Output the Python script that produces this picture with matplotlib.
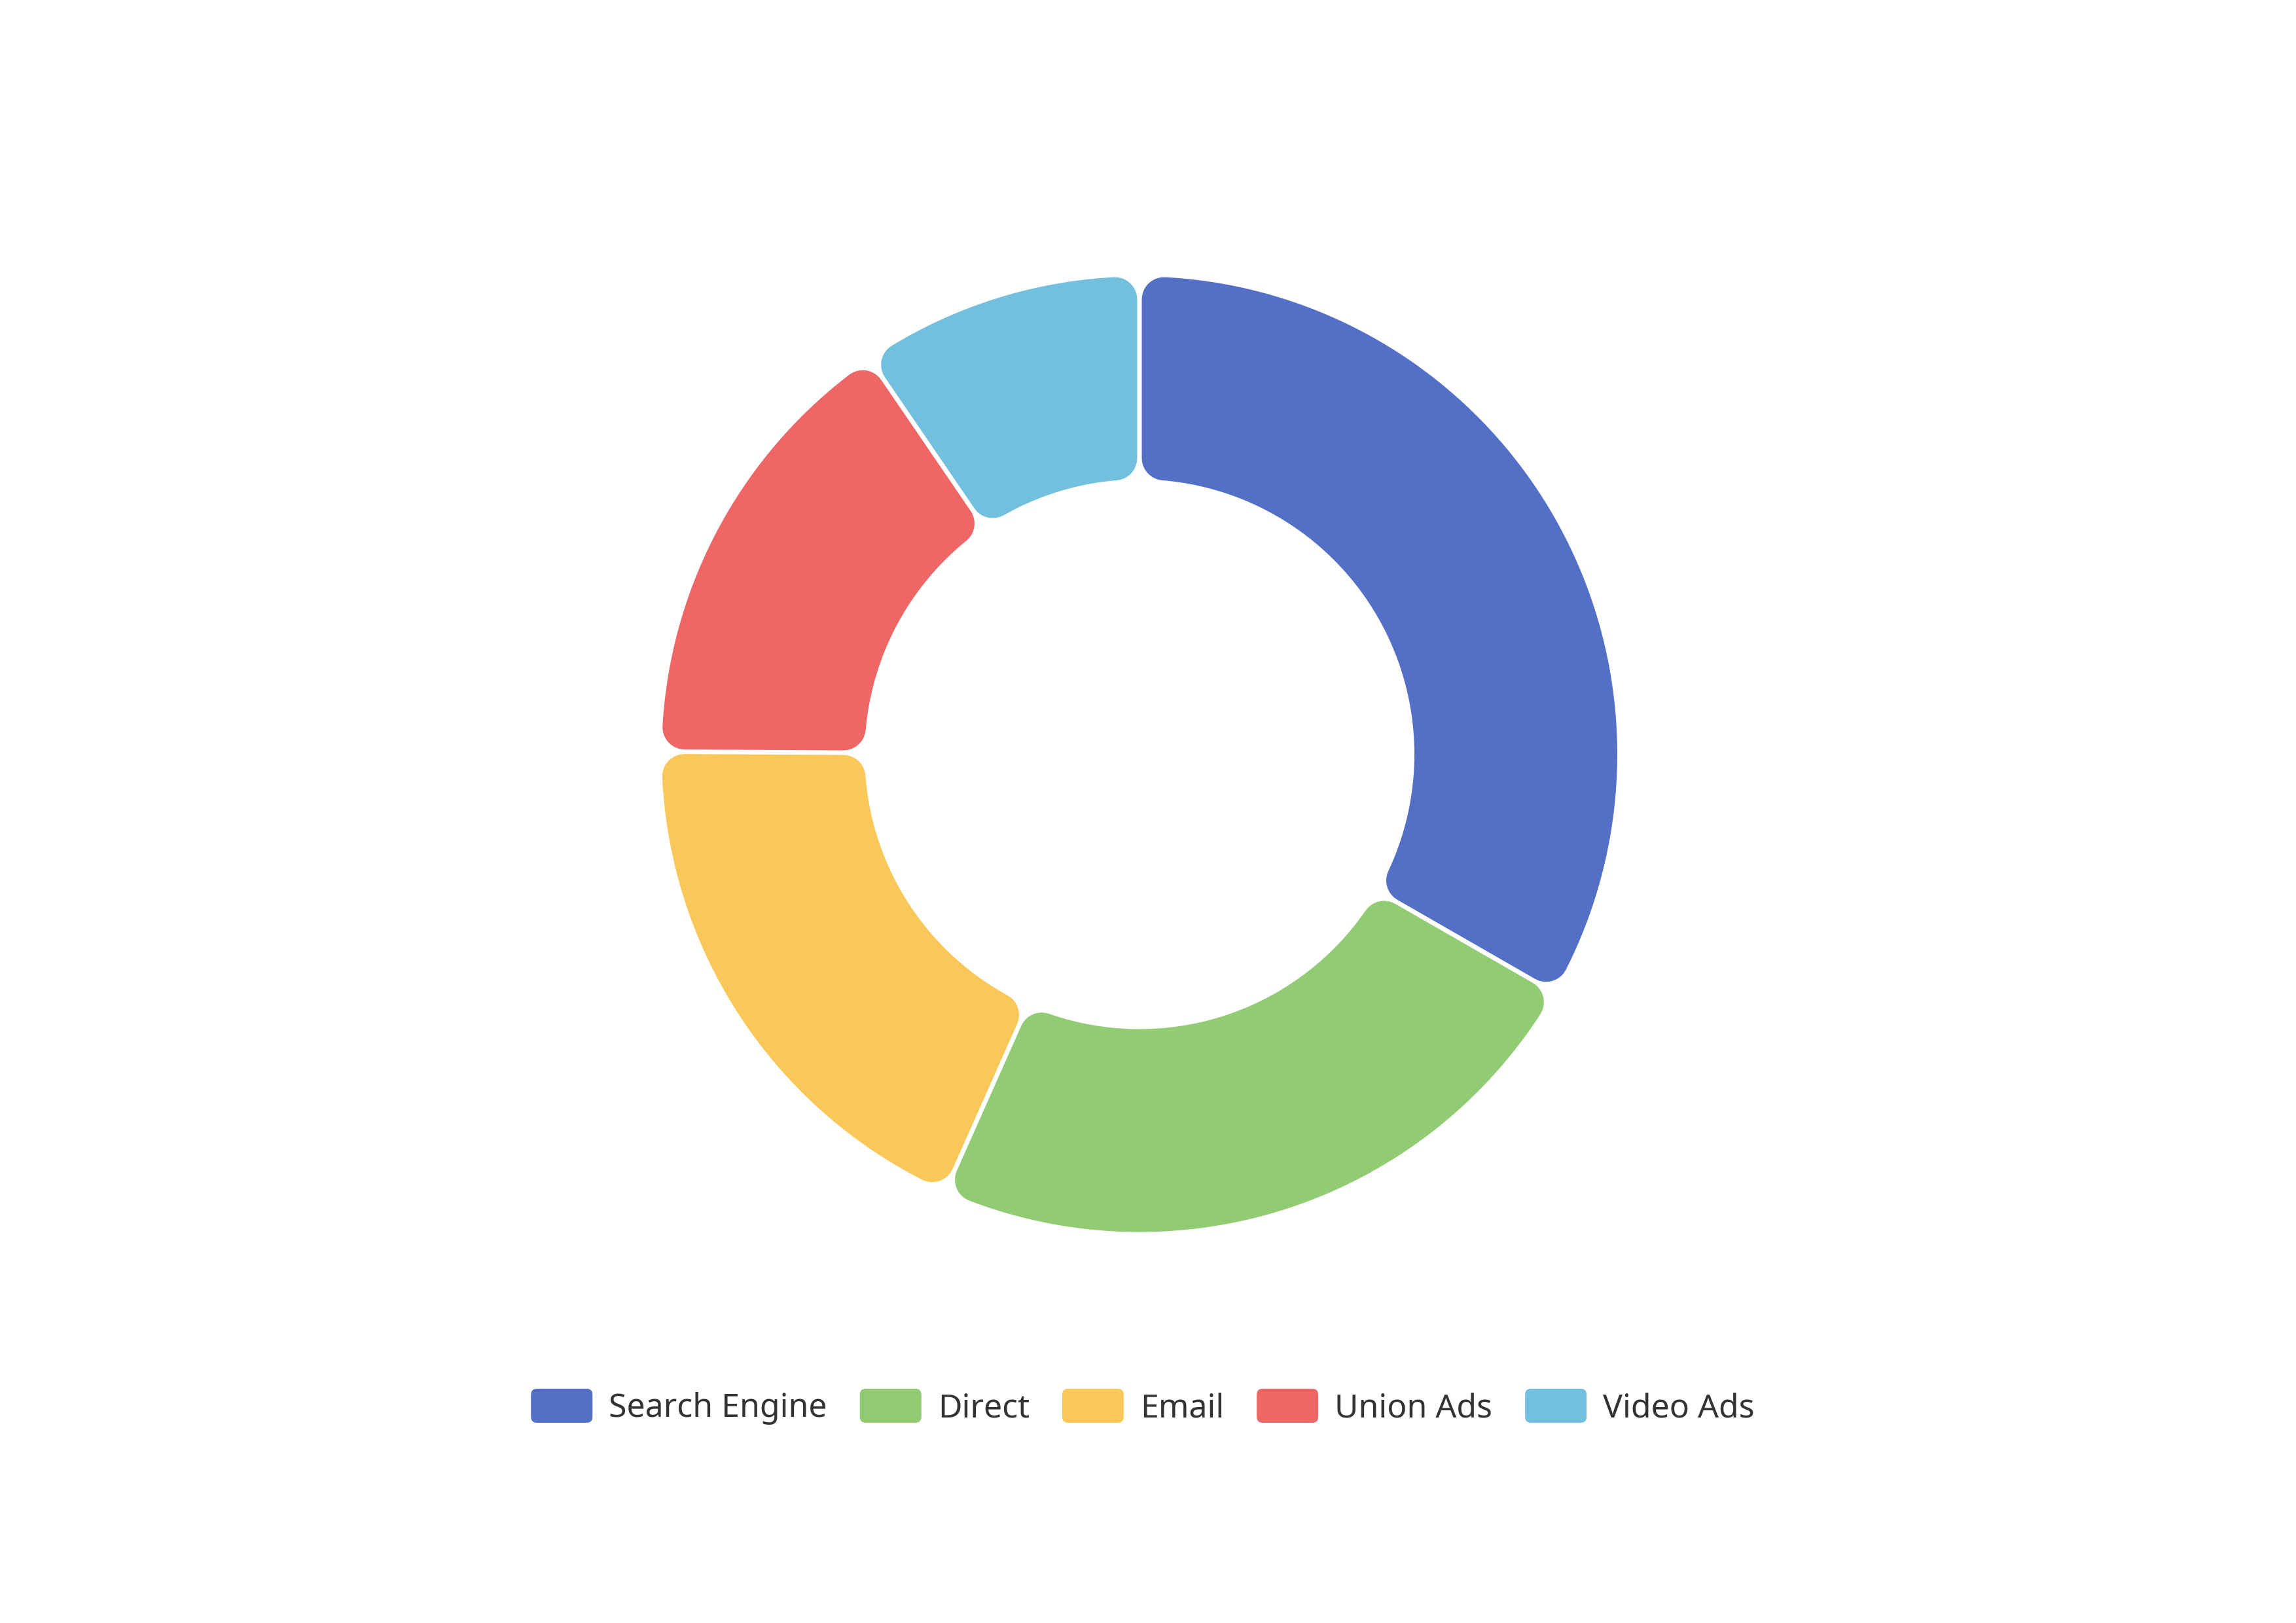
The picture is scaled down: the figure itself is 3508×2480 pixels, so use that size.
import matplotlib
matplotlib.use('Agg')
import matplotlib.pyplot as plt
import numpy as np
from matplotlib.patches import Polygon, FancyBboxPatch

categories = ['Search Engine', 'Direct', 'Email', 'Union Ads', 'Video Ads']
values = [1048, 735, 580, 484, 300]
colors = ['#5470c6', '#91cc75', '#fac858', '#ee6666', '#73c0de']

W, H, DPI = 3508, 2480, 100
fig = plt.figure(figsize=(W / DPI, H / DPI), dpi=DPI)
ax = fig.add_axes([0, 0, 1, 1])

cx, cy = 1741.0, H - 1152.5
R_OUT, R_IN = 730.0, 420.0
GAP = 7.0
RC = 34.0
PX2PT = 72.0 / DPI

wedges, _ = ax.pie(values, colors=colors, startangle=90, counterclock=False,
                   radius=R_OUT, center=(cx, cy), frame=True)

ro = R_OUT - RC
ri = R_IN + RC
d = GAP / 2 + RC
for w, col in zip(wedges, colors):
    t1, t2 = np.radians(w.theta1), np.radians(w.theta2)
    w.set_visible(False)
    ao1, ao2 = t1 + np.arcsin(d / ro), t2 - np.arcsin(d / ro)
    ai1, ai2 = t1 + np.arcsin(d / ri), t2 - np.arcsin(d / ri)
    a_out = np.linspace(ao1, ao2, 400)
    a_in = np.linspace(ai2, ai1, 400)
    xs = np.concatenate([cx + ro * np.cos(a_out), cx + ri * np.cos(a_in)])
    ys = np.concatenate([cy + ro * np.sin(a_out), cy + ri * np.sin(a_in)])
    poly = Polygon(np.column_stack([xs, ys]), closed=True, facecolor=col,
                   edgecolor=col, linewidth=2 * RC * PX2PT, joinstyle='round')
    ax.add_patch(poly)

ax.set_xlim(0, W)
ax.set_ylim(0, H)
ax.set_aspect('equal')
ax.axis('off')

# legend
fig.canvas.draw()
renderer = fig.canvas.get_renderer()
box_w, box_h = 94, 52
box_text_gap = 25
item_gap = 50
leg_cy = H - 2148
font = dict(family=['Noto Sans', 'DejaVu Sans'], fontsize=36, color='#333333')
texts = []
widths = []
for lab in categories:
    t = ax.text(0, leg_cy, lab, va='center', ha='left', **font)
    bb = t.get_window_extent(renderer)
    widths.append(bb.width)
    texts.append(t)
total = sum(box_w + box_text_gap + tw for tw in widths) + item_gap * (len(categories) - 1)
x = 1746 - total / 2
for t, tw, col in zip(texts, widths, colors):
    ax.add_patch(FancyBboxPatch((x, leg_cy - box_h / 2), box_w, box_h,
                                boxstyle='round,pad=0,rounding_size=9',
                                facecolor=col, edgecolor='none'))
    t.set_position((x + box_w + box_text_gap, leg_cy - 4))
    x += box_w + box_text_gap + tw + item_gap

fig.savefig('out.png', dpi=DPI, facecolor='white')
